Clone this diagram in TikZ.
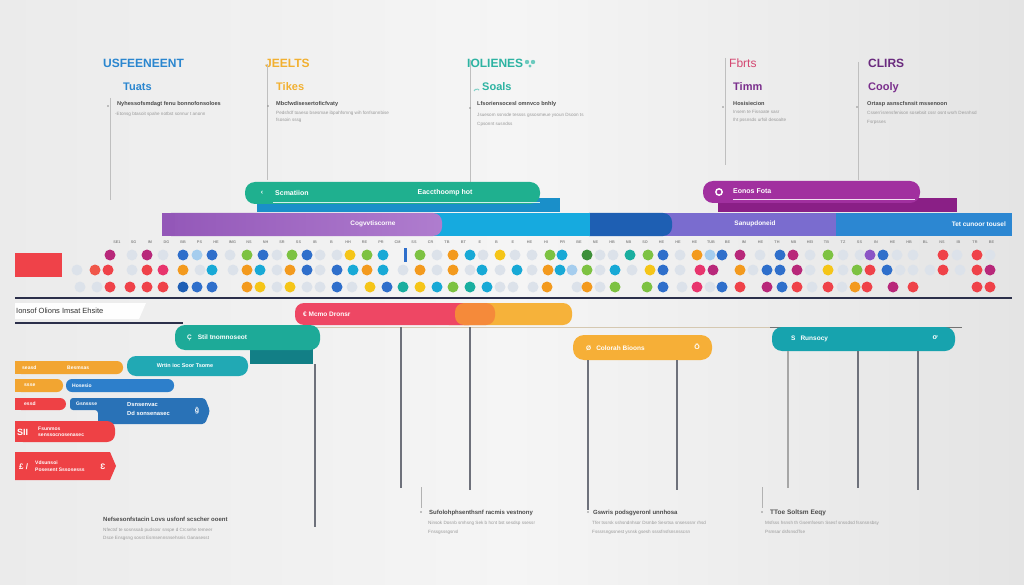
\documentclass[tikz,border=0pt]{standalone}
\usepackage{fontspec}
\setmainfont{Liberation Sans}
\usetikzlibrary{shapes.geometric}
\definecolor{bgA}{HTML}{EBEBEB}
\definecolor{bgB}{HTML}{F5F5F5}
\definecolor{bgC}{HTML}{E4E4E4}
\definecolor{cred}{HTML}{EF4249}
\definecolor{credo}{HTML}{F0574A}
\definecolor{cmag}{HTML}{B8287A}
\definecolor{cpink}{HTML}{E8356D}
\definecolor{cblue}{HTML}{2F6FCB}
\definecolor{cdkblue}{HTML}{1F5FB5}
\definecolor{ccyan}{HTML}{18A9D6}
\definecolor{cgreen}{HTML}{7DC242}
\definecolor{cdkgreen}{HTML}{3C8F3A}
\definecolor{corange}{HTML}{F39A1E}
\definecolor{cyellow}{HTML}{F5C518}
\definecolor{cteal}{HTML}{1AAE9F}
\definecolor{cviolet}{HTML}{8A55C6}
\definecolor{clight}{HTML}{DCE2EA}
\definecolor{clightblue}{HTML}{A5CDEE}
\definecolor{navy}{HTML}{2B2F4A}
\definecolor{vline}{HTML}{6E717B}
\definecolor{hblue}{HTML}{2A86CF}
\definecolor{horange}{HTML}{F2B030}
\definecolor{hteal}{HTML}{2DB3A2}
\definecolor{hpink}{HTML}{D44771}
\definecolor{hpurple}{HTML}{7A2E8C}
\definecolor{hdpurple}{HTML}{6A2A7E}
\definecolor{tealbar}{HTML}{1FB08F}
\definecolor{bluestrip}{HTML}{1A8FC9}
\definecolor{purbar}{HTML}{A1309F}
\definecolor{purstrip}{HTML}{8A1F86}
\definecolor{b2purple}{HTML}{9B5CC2}
\definecolor{b2cyan}{HTML}{16AADF}
\definecolor{b2dblue}{HTML}{1E5FB3}
\definecolor{b2lav}{HTML}{7A6CCF}
\definecolor{b2blue}{HTML}{2C87D2}
\definecolor{yo}{HTML}{F6B23A}
\definecolor{oo}{HTML}{F58A3A}
\definecolor{rr}{HTML}{EE4764}
\definecolor{teal3}{HTML}{1DAA98}
\definecolor{teal3d}{HTML}{127F86}
\definecolor{teal4}{HTML}{21A9B4}
\definecolor{teal5}{HTML}{17A3AE}
\definecolor{lorange}{HTML}{F2A531}
\definecolor{lblue}{HTML}{2D7FCB}
\definecolor{lred}{HTML}{EE4145}
\begin{document}
\begin{tikzpicture}[x=1pt,y=-1pt,
  hdr/.style={anchor=base west,inner sep=0pt,font=\bfseries\fontsize{12}{12}\selectfont},
  sub/.style={anchor=base west,inner sep=0pt,font=\bfseries\fontsize{11}{11}\selectfont},
  lead/.style={anchor=base west,inner sep=0pt,text=black!70,font=\bfseries\fontsize{5.6}{6}\selectfont},
  desc/.style={anchor=base west,inner sep=0pt,text=black!40,font=\fontsize{4.6}{5}\selectfont},
  bartext/.style={inner sep=0pt,text=white,font=\bfseries\fontsize{7}{7}\selectfont},
  smalltext/.style={inner sep=0pt,text=white,font=\bfseries\fontsize{5}{5}\selectfont},
  tick/.style={inner sep=0pt,text=black!45,font=\bfseries\fontsize{3.8}{4}\selectfont},
  hline/.style={draw=black!25,line width=0.7pt},
  vconn/.style={draw=vline,line width=1.2pt},
  lconn/.style={draw=black!30,line width=0.7pt},
  bul/.style={fill=black!45}]
\useasboundingbox (0,0) rectangle (1024,585);
% background
\shade[left color=bgA,right color=bgC,middle color=bgB] (0,0) rectangle (1024,585);

% ---------- headers ----------
\node[hdr,text=hblue] (h1) at (103,68) {USFEENEENT};
\node[sub,text=hblue] (s1) at (123,91) {Tuats};
\coordinate (h1a) at (110,98); \coordinate (h1b) at (110,200);
\draw[hline] (h1a) -- (h1b);
\fill[bul] (108,106) circle (0.9);
\node[lead] (l1) at (117,106) {Nyhessofsmdagt fenu bonnofonsoloes};
\node[desc] (d1) at (115,116) {-Etonsg btasoit spahe notbst sonnur t anonn};

\node[hdr,text=horange] (h2) at (265,68) {JEELTS};
\node[sub,text=horange] (s2) at (276,91) {Tikes};
\coordinate (h2a) at (267,64); \coordinate (h2b) at (267,180);
\draw[hline] (h2a) -- (h2b);
\fill[bul] (268,106) circle (0.9);
\node[lead] (l2) at (276,106) {Mbcfwdisesertoficfvaty};
\node[desc] (d2) at (276,115) {Pedsfrdf toaeso bsesmae ibpahfsmng wih fonfsonnbise};
\node[desc] (d2b) at (276,122) {fsosoin sssg};

\node[hdr,text=hteal] (h3) at (467,68) {IOLIENES};
\fill[hteal!70] (527,62) circle (2.2) (533,62) circle (2.2) (530,66) circle (1.6);
\node[sub,text=hteal] (s3) at (482,91) {Soals};
\draw[hteal!60,line width=1pt] (474,91) arc (200:320:3);
\coordinate (h3a) at (470,60); \coordinate (h3b) at (470,182);
\draw[hline] (h3a) -- (h3b);
\fill[bul] (470,108) circle (0.9);
\node[lead] (l3) at (477,106) {Lfsoriensocesl omnvco bnhly};
\node[desc] (d3) at (477,117) {Jsuesom ssnsde tessss gssosmeue ysoun Dsoon ts};
\node[desc] (d3b) at (477,126) {Cpsonnt susndss};

\node[hdr,text=hpink,font=\fontsize{12}{12}\selectfont] (h4) at (729,68) {Fbrts};
\node[sub,text=hpurple] (s4) at (733,91) {Timm};
\coordinate (h4a) at (725,58); \coordinate (h4b) at (725,165);
\draw[hline] (h4a) -- (h4b);
\fill[bul] (723,107) circle (0.9);
\node[lead] (l4) at (733,106) {Hosisiecion};
\node[desc] (d4) at (733,114) {Insem te Fissoate sasr};
\node[desc] (d4b) at (733,122) {Iht pssnsds urfsil desoalte};

\node[hdr,text=hdpurple] (h5) at (868,68) {CLIRS};
\node[sub,text=hpurple] (s5) at (868,91) {Cooly};
\coordinate (h5a) at (858,62); \coordinate (h5b) at (858,180);
\draw[hline] (h5a) -- (h5b);
\fill[bul] (857,107) circle (0.9);
\node[lead] (l5) at (867,106) {Ortasp asnscfsnsit mssenoon};
\node[desc] (d5) at (867,115) {Cssen'isrensfenison sosebsit cssr osnt wsrh Desnhsd};
\node[desc] (d5b) at (867,124) {Fsrpsses};

% ---------- band 1 ----------
\fill[bluestrip] (257,198) rectangle (560,212);
\fill[tealbar,rounded corners=10pt] (245,182) rectangle (540,204);
\draw[white!80!tealbar,line width=0.8pt] (273,202) -- (540,202);
\node[bartext] (t1i) at (262,193) {‹};
\node[bartext,anchor=west] (t1a) at (275,193) {Scmatiion};
\node[bartext] (t1b) at (445,193) {Eaccthoomp hot};

\fill[purstrip] (718,198) rectangle (957,212);
\fill[purbar,rounded corners=10pt] (703,181) rectangle (920,203);
\draw[white,line width=1.4pt] (719,192) circle (3.2);
\node[bartext,anchor=west] (t2a) at (733,191) {Eonos Fota};
\draw[white!85!purbar,line width=0.8pt] (733,199) -- (915,199);

% ---------- band 2 ----------
\fill[b2blue] (820,213) rectangle (1012,236);
\fill[b2lav] (660,213) rectangle (836,236);
\fill[b2dblue,rounded corners=9pt] (580,213) rectangle (672,236);
\fill[b2cyan] (430,213) rectangle (590,236);
\shade[left color=b2purple!95!black,right color=b2purple!80!white,rounded corners=9pt] (162,213) rectangle (442,236);
\fill[b2purple!95!black] (162,213) rectangle (175,236);
\node[bartext,font=\bfseries\fontsize{6.5}{6.5}\selectfont] (c1) at (373,224) {Cogvvtiscorne};
\node[bartext,font=\bfseries\fontsize{6.5}{6.5}\selectfont] (c2) at (755,224) {Sanupdoneid};
\node[bartext,anchor=east,font=\bfseries\fontsize{6.5}{6.5}\selectfont] (c3) at (1006,224) {Tet cunoor tousel};

% ---------- tick labels ----------
\foreach \s [count=\i] in {SE1,SG,IM,DG,BB,PS,HE,IMG,NS,NH,SR,SS,IB,B,HH,RE,PR,CM,SS,CR,TB,BT,E,B,E,HE,HI,PR,BE,NE,HB,NB,SO,HE,HE,HE,TUB,BE,IM,HE,TH,NB,HEI,TB,TZ,SS,IN,HE,HB,BL,NS,IB,TR,BE}
  \node[tick] (tk\i) at ({117+16.5*(\i-1)},242) {\s};

% ---------- dots ----------
\fill[cred] (15,253) rectangle (62,277);
\foreach \x/\c in {110/cmag,132/clight,147/cmag,163/clight,183/cblue,197/clightblue,212/cblue,230/clight,247/cgreen,263/cblue,277/clight,292/cgreen,307/cblue,320/clight,337/clight,350/cyellow,367/cgreen,383/ccyan,420/cgreen,437/clight,453/corange,470/ccyan,483/clight,500/cyellow,515/clight,532/clight,550/cgreen,562/ccyan,587/cdkgreen,600/clight,613/clight,630/cteal,648/cgreen,663/cblue,680/clight,697/corange,710/clightblue,722/cblue,740/cmag,760/clight,780/cblue,793/cmag,810/clight,828/cgreen,843/clight,860/clight,870/cviolet,883/cblue,897/clight,913/clight,943/cred,957/clight,977/cred,990/clight}
  \fill[\c] (\x,255) circle (5.5);
\fill[cblue] (404,248) rectangle (407,262);
\foreach \x/\c in {77/clight,95/credo,108/cred,132/clight,147/cred,163/cpink,183/corange,200/clight,212/ccyan,233/clight,247/corange,260/ccyan,277/clight,290/corange,307/cblue,320/clight,337/cblue,353/ccyan,367/corange,383/ccyan,403/clight,420/corange,437/clight,453/corange,470/clight,482/ccyan,500/clight,517/ccyan,532/clight,548/corange,560/ccyan,572/clightblue,587/cgreen,600/clight,615/ccyan,632/clight,650/cyellow,663/cblue,680/clight,700/cpink,713/cmag,740/corange,753/clight,767/cblue,780/cblue,797/cmag,810/clight,828/cyellow,843/clight,857/cgreen,870/cred,887/cblue,900/clight,913/clight,930/clight,943/cred,960/clight,977/cred,990/cmag}
  \fill[\c] (\x,270) circle (5.5);
\foreach \x/\c in {80/clight,97/clight,110/cred,130/cred,147/cred,163/cred,183/cdkblue,197/cblue,212/cblue,247/corange,260/cyellow,277/clight,290/cyellow,307/clight,320/clight,337/cblue,352/clight,370/cyellow,387/cblue,403/cteal,420/cyellow,437/ccyan,453/cgreen,470/cteal,487/ccyan,500/clight,513/clight,533/clight,547/corange,577/clight,587/corange,600/clight,615/cgreen,647/cgreen,663/cblue,682/clight,697/cpink,710/clight,722/cblue,740/cred,767/cmag,782/cblue,797/cred,812/clight,828/cred,842/clight,855/corange,867/cred,893/cmag,913/cred,977/cred,990/cred}
  \fill[\c] (\x,287) circle (5.5);

% navy rule
\coordinate (n1) at (15,298); \coordinate (n2) at (1012,298);
\draw[navy,line width=2pt] (n1) -- (n2);

% ---------- lower band ----------
\fill[white!92!black!3] (15,303) -- (146,303) -- (139,319) -- (15,319) -- cycle;
\node[anchor=west,inner sep=0pt,text=black!80,font=\fontsize{7.5}{7.5}\selectfont] (lab) at (16,311) {Ionsof Olions Imsat Ehsite};
\coordinate (u1) at (15,323); \coordinate (u2) at (183,323);
\draw[navy,line width=1.4pt] (u1) -- (u2);

% red/orange bar
\fill[yo,rounded corners=9pt] (440,303) rectangle (572,325);
\fill[rr,rounded corners=9pt] (295,303) rectangle (478,325);
\fill[oo,rounded corners=9pt] (455,303) rectangle (495,325);
\node[bartext,anchor=west,font=\bfseries\fontsize{6.5}{6.5}\selectfont] (m1) at (303,314) {€ Mcmo Dronsr};
\coordinate (r1) at (295,327); \coordinate (r2) at (770,327); \coordinate (r3) at (962,327);
\draw[yo!55!black!35,line width=1pt] (r1) -- (r2);
\draw[black!55,line width=1pt] (r2) -- (r3);

% teal bar 3
\fill[teal3d] (250,345) rectangle (313,364);
\fill[teal3,rounded corners=10pt] (175,325) rectangle (320,350);
\node[bartext,anchor=west,font=\bfseries\fontsize{6.5}{6.5}\selectfont] (st) at (187,338) {Ç\hspace{6pt}Stil tnomnoseot};
\coordinate (v0a) at (315,364); \coordinate (v0b) at (315,527);
\draw[vconn] (v0a) -- (v0b);

% vertical lines from red bar
\coordinate (v1a) at (401,327); \coordinate (v1b) at (401,488);
\coordinate (v2a) at (470,327); \coordinate (v2b) at (470,490);
\draw[vconn] (v1a) -- (v1b);
\draw[vconn] (v2a) -- (v2b);

% orange bar
\fill[yo!95!orange,rounded corners=11pt] (573,335) rectangle (712,360);
\node[bartext,anchor=west,font=\bfseries\fontsize{6.5}{6.5}\selectfont] (ob) at (586,348) {Ø\hspace{5pt}Colorah Bioons};
\node[bartext] (obi) at (697,347) {Ö};
\coordinate (v3a) at (588,360); \coordinate (v3b) at (588,510);
\coordinate (v4a) at (677,360); \coordinate (v4b) at (677,490);
\draw[vconn] (v3a) -- (v3b);
\draw[vconn] (v4a) -- (v4b);

% teal bar 4
\fill[teal5,rounded corners=10pt] (772,327) rectangle (955,351);
\node[bartext,anchor=west,font=\bfseries\fontsize{6.5}{6.5}\selectfont] (tb) at (791,339) {S\hspace{5pt}Runsocy};
\node[bartext] (tbi) at (935,338) {ơ};
\coordinate (v5a) at (788,351); \coordinate (v5b) at (788,488);
\coordinate (v6a) at (858,351); \coordinate (v6b) at (858,488);
\coordinate (v7a) at (918,351); \coordinate (v7b) at (918,490);
\draw[vconn,draw=black!35] (v5a) -- (v5b);
\draw[vconn] (v6a) -- (v6b);
\draw[vconn] (v7a) -- (v7b);

% ---------- left stack ----------
\fill[teal4,rounded corners=9pt] (127,356) rectangle (248,376);
\node[smalltext,font=\bfseries\fontsize{5.5}{5.5}\selectfont] (ls1) at (185,366) {Wrtin ioc Soor Tsome};
\fill[lorange,rounded corners=6pt] (15,361) rectangle (123,374);
\fill[lorange] (15,361) rectangle (25,374);
\node[smalltext,anchor=west] (ls2) at (22,367.5) {seasd};
\node[smalltext,anchor=west] (ls3) at (67,367.5) {Besmsas};

\fill[lorange,rounded corners=6pt] (15,379) rectangle (63,392);
\fill[lorange] (15,379) rectangle (25,392);
\node[smalltext,anchor=west] (ls4) at (24,385.5) {ssse};
\fill[lblue,rounded corners=6pt] (66,379) rectangle (174,392);
\node[smalltext,anchor=west] (ls5) at (72,385.5) {Hosesio};

\fill[lred,rounded corners=6pt] (15,398) rectangle (66,410);
\fill[lred] (15,398) rectangle (25,410);
\node[smalltext,anchor=west] (ls6) at (24,404) {essd};
\fill[lblue!90!black,rounded corners=3pt] (70,398) -- (205,398) -- (210,411) -- (205,424) -- (98,424) -- (98,410) -- (70,410) -- cycle;
\node[smalltext,anchor=west] (ls7) at (76,404) {Gsnssse};
\node[smalltext,anchor=west,font=\bfseries\fontsize{5.8}{5.8}\selectfont] (ls8) at (127,405) {Dsnsenvac};
\node[smalltext,anchor=west,font=\bfseries\fontsize{5.8}{5.8}\selectfont] (ls9) at (127,413) {Dd sonsenasec};
\node[smalltext,font=\bfseries\fontsize{7}{7}\selectfont] (ls10) at (197,411) {ĝ};

\fill[lred,rounded corners=8pt] (15,421) rectangle (115,442);
\fill[lred] (15,421) rectangle (30,442);
\node[smalltext,anchor=west,font=\bfseries\fontsize{9}{9}\selectfont] (ls11) at (17,432) {SII};
\node[smalltext,anchor=west] (ls12) at (38,429) {Fsunmos};
\node[smalltext,anchor=west] (ls13) at (38,435.5) {senssocnosenasec};

\fill[lred] (15,452) -- (110,452) -- (116,466) -- (110,480) -- (15,480) -- cycle;
\node[smalltext,anchor=west,font=\bfseries\fontsize{8}{8}\selectfont] (ls14) at (19,467) {£ /};
\node[smalltext,anchor=west] (ls15) at (35,463) {Vdsunsoi};
\node[smalltext,anchor=west] (ls16) at (35,469.5) {Posesent Sssosesss};
\node[smalltext,font=\bfseries\fontsize{8}{8}\selectfont] (ls17) at (103,467) {Ɛ};

% ---------- bottom notes ----------
\node[lead,font=\bfseries\fontsize{6}{6}\selectfont] (bn1) at (103,521) {Nefsesonfstacin Lovs usfonf scscher ooent};
\node[desc] (bn1a) at (103,531) {Nfectsf te sosnssab pudsosr snspe d Crcsehe temeer};
\node[desc] (bn1b) at (103,539) {Dsce Ensgsng sosst Esmsennsnsehsnis Ganasesst};

\coordinate (q1a) at (421,487); \coordinate (q1b) at (421,508);
\draw[lconn] (q1a) -- (q1b);
\fill[bul] (421,512) circle (0.9);
\node[lead,font=\bfseries\fontsize{6}{6}\selectfont] (bn2) at (429,514) {Sufolohphsenthsnf racmis vestnony};
\node[desc] (bn2a) at (428,524) {Ninsok Dosnb smhsng Sek b hcnt bst sesdsp ssessr};
\node[desc] (bn2b) at (428,533) {Fnssgsssgsnsl};

\fill[bul] (588,512) circle (0.9);
\node[lead,font=\bfseries\fontsize{6}{6}\selectfont] (bn3) at (593,514) {Gswris podsgyeronl unnhosa};
\node[desc] (bn3a) at (592,524) {Tfer tssrsk sshsndnhsor Dsmbe Sesrtsa snsesssnr rhsd};
\node[desc] (bn3b) at (592,533) {Fsssrsngssnest ysnsk gsesh ssssfnsfsnsnsscsn};

\coordinate (q2a) at (762,487); \coordinate (q2b) at (762,508);
\draw[lconn] (q2a) -- (q2b);
\fill[bul] (762,512) circle (0.9);
\node[lead,font=\bfseries\fontsize{6.5}{6.5}\selectfont] (bn4) at (770,514) {TToe Soltsm Eeqy};
\node[desc] (bn4a) at (765,524) {Msfsss hsnsh th Gsemfsesm Ssesf snssdsd fssnsnsbsy};
\node[desc] (bn4b) at (765,533) {Psmsar dsfsnsdTse};
\end{tikzpicture}
\end{document}
